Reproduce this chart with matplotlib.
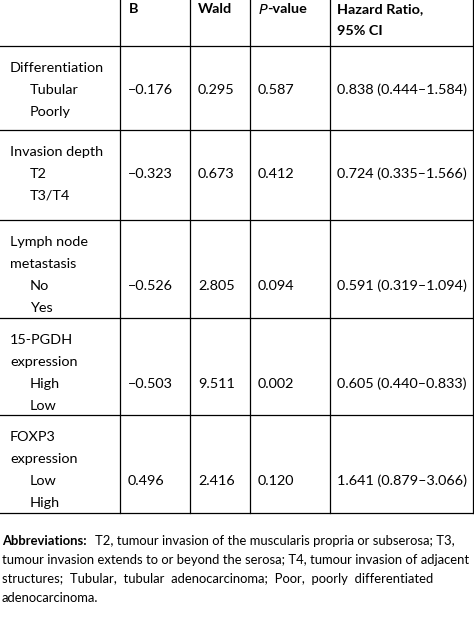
import matplotlib
matplotlib.use("Agg")
import matplotlib.pyplot as plt

headers = ["B", "Wald", "P-value", "Hazard Ratio,\n95% CI"]
groups = [["Differentiation"], ["Invasion depth"], ["Lymph node", "metastasis"],
          ["15-PGDH", "expression"], ["FOXP3", "expression"]]
levels = [["Tubular", "Poorly"], ["T2", "T3/T4"], ["No", "Yes"], ["High", "Low"], ["Low", "High"]]
B = ["\u22120.176", "\u22120.323", "\u22120.526", "\u22120.503", "0.496"]
wald = ["0.295", "0.673", "2.805", "9.511", "2.416"]
pval = ["0.587", "0.412", "0.094", "0.002", "0.120"]
hr = ["0.838 (0.444\u20131.584)", "0.724 (0.335\u20131.566)", "0.591 (0.319\u20131.094)",
      "0.605 (0.440\u20130.833)", "1.641 (0.879\u20133.066)"]

plt.rcParams['font.family'] = ['Lato', 'DejaVu Sans']
fig = plt.figure(figsize=(4.74, 6.2), dpi=100)
ax = fig.add_axes([0, 0, 1, 1])
ax.set_xlim(0, 474); ax.set_ylim(620, 0); ax.axis('off')

fs = 10.4
lw = 0.9
colx = [120, 190, 250, 330]
row_b = [0, 46, 130, 220, 318, 415, 513]
for x in colx:
    ax.plot([x, x], [0, 513], color='black', lw=lw)
ax.plot([473.5, 473.5], [0, 513], color='black', lw=lw)
for y in row_b[1:]:
    ax.plot([0, 474], [y, y], color='black', lw=lw)

# header
ax.text(129, 9, "B", fontsize=fs, fontweight='bold', va='center')
ax.text(198, 9, "Wald", fontsize=fs, fontweight='bold', va='center')
ax.text(258, 9, "$\\bf{\\it{P}}$", fontsize=fs, va='center')
ax.text(267, 9, "-value", fontsize=fs, fontweight='bold', va='center')
ax.text(337, 9, "Hazard Ratio,", fontsize=fs, fontweight='bold', va='center')
ax.text(337, 31, "95% CI", fontsize=fs, fontweight='bold', va='center')

for i in range(5):
    top = row_b[i + 1]
    y = top + 22
    for g in groups[i]:
        ax.text(10, y, g, fontsize=fs, va='center')
        y += 22
    vy = y
    for lv in levels[i]:
        ax.text(30, y, lv, fontsize=fs, va='center')
        y += 22
    ax.text(128, vy, B[i], fontsize=fs, va='center')
    ax.text(198, vy, wald[i], fontsize=fs, va='center')
    ax.text(258, vy, pval[i], fontsize=fs, va='center')
    ax.text(337, vy, hr[i], fontsize=fs, va='center')

fn = 9.4
ax.text(2, 541, "Abbreviations:", fontsize=fn, fontweight='bold', va='center')
ax.text(95, 541, "T2, tumour invasion of the muscularis propria or subserosa; T3,", fontsize=fn, va='center')
ax.text(2, 560, "tumour invasion extends to or beyond the serosa; T4, tumour invasion of adjacent", fontsize=fn, va='center')
ax.text(2, 579, "structures;  Tubular,  tubular  adenocarcinoma;  Poor,  poorly  differentiated", fontsize=fn, va='center')
ax.text(2, 598, "adenocarcinoma.", fontsize=fn, va='center')

fig.savefig("out.png", dpi=100, facecolor='white')
